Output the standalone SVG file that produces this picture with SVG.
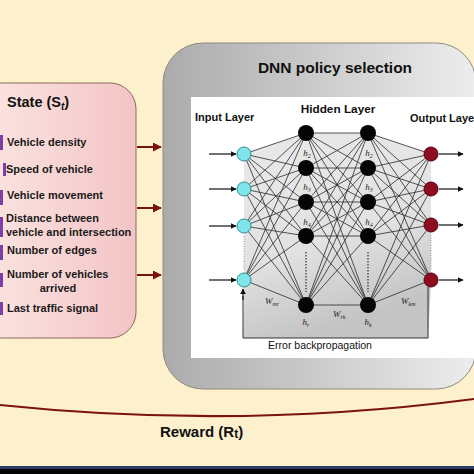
<svg xmlns="http://www.w3.org/2000/svg" width="474" height="474" viewBox="0 0 474 474">
<style>
.t{font-family:"Liberation Sans",Arial,sans-serif;fill:#111}
.b{font-weight:bold}
.item{font-family:"Liberation Sans",Arial,sans-serif;font-weight:bold;font-size:11px;fill:#1a1a1a}
.bar{fill:#7c3fa6}
.lab{font-family:"Liberation Serif","Times New Roman",serif;font-style:italic;font-size:9px;fill:#222}
.w{stroke:#2a2a2a;stroke-width:0.8;fill:none}
.inN{fill:#7ee6ea;stroke:#2f8d93;stroke-width:1}
.hN{fill:#050505}
.oN{fill:#8e0c1f;stroke:#5a0010;stroke-width:1}
.dots{stroke:#333;stroke-width:1.2;stroke-dasharray:1.5 1.5;fill:none}
.ext{stroke:#7b1212;stroke-width:2;fill:none}
.nnA{stroke:#111;stroke-width:1.2;fill:none}
</style>
<defs>
<linearGradient id="pinkG" x1="0" x2="1" y1="0" y2="0">
<stop offset="0" stop-color="#fbe8e4"/>
<stop offset="1" stop-color="#f4c4c6"/>
</linearGradient>
<linearGradient id="grayG" x1="0" x2="1" y1="0" y2="0">
<stop offset="0" stop-color="#ababab"/>
<stop offset="1" stop-color="#ededed"/>
</linearGradient>
<linearGradient id="shadeG" x1="0" x2="0.3" y1="0" y2="1">
<stop offset="0" stop-color="#e9e9e9"/>
<stop offset="0.6" stop-color="#e2e2e2"/>
<stop offset="1" stop-color="#c4c4c4"/>
</linearGradient>
<marker id="redArr" viewBox="0 0 10 10" refX="9" refY="5" markerWidth="4.5" markerHeight="4.5" orient="auto" markerUnits="strokeWidth">
<path d="M0 0L10 5L0 10z" fill="#7b1212"/>
</marker>
<marker id="blkArr" viewBox="0 0 10 10" refX="9" refY="5" markerWidth="5" markerHeight="5" orient="auto" markerUnits="strokeWidth">
<path d="M0 0L10 5L0 10z" fill="#111"/>
</marker>
</defs>

<rect x="0" y="0" width="474" height="474" fill="#fdf0cd"/>
<rect x="0" y="466" width="474" height="3" fill="#2c3a6a"/>
<rect x="0" y="469" width="474" height="5" fill="#050505"/>

<g id="state">
<rect x="-30" y="83" width="166" height="255" rx="26" fill="url(#pinkG)" stroke="#8a6a5c" stroke-width="1"/>
<text class="t b" x="7" y="107" font-size="14.5">State (S<tspan font-size="10" font-style="italic" dy="3">t</tspan><tspan dy="-3">)</tspan></text>
<rect class="bar" x="0" y="135" width="3" height="15"/>
<text class="item" x="7" y="146">Vehicle density</text>
<rect class="bar" x="3" y="163" width="3" height="13"/>
<text class="item" x="6" y="173">Speed of vehicle</text>
<rect class="bar" x="0" y="190" width="3" height="15"/>
<text class="item" x="7" y="199">Vehicle movement</text>
<rect class="bar" x="0" y="217" width="3" height="20"/>
<text class="item" x="6" y="222">Distance between</text>
<text class="item" x="6" y="236">vehicle and intersection</text>
<rect class="bar" x="0" y="245" width="3" height="15"/>
<text class="item" x="7" y="254">Number of edges</text>
<rect class="bar" x="0" y="273" width="3" height="14"/>
<text class="item" x="7" y="278">Number of vehicles</text>
<text class="item" x="58" y="292" text-anchor="middle">arrived</text>
<rect class="bar" x="0" y="302" width="3" height="13"/>
<text class="item" x="7" y="312">Last traffic signal</text>
</g>

<g id="dnn">
<rect x="163" y="43" width="313" height="346" rx="40" fill="url(#grayG)" stroke="#8c8a80" stroke-width="1"/>
<text class="t b" x="335" y="73" font-size="15.5" text-anchor="middle">DNN policy selection</text>
<rect x="191" y="97" width="290" height="261" fill="#ffffff"/>
<polygon points="244,154 306,133 368,133 431,154 431,282 428,338 243,338 244,282" fill="url(#shadeG)"/>
<text class="t b" x="195" y="121" font-size="11">Input Layer</text>
<text class="t b" x="338" y="113" font-size="11.8" text-anchor="middle">Hidden Layer</text>
<text class="t b" x="410" y="122" font-size="11">Output Layer</text>
<text class="t" x="320" y="349" font-size="10.5" text-anchor="middle">Error backpropagation</text>
</g>

<g id="connectors">
<path class="ext" d="M137 147H161" marker-end="url(#redArr)"/>
<path class="ext" d="M137 208H161" marker-end="url(#redArr)"/>
<path class="ext" d="M137 275H161" marker-end="url(#redArr)"/>
<path d="M0 405Q237 430 474 399" stroke="#7b1212" stroke-width="2.2" fill="none"/>
<path class="w" d="M244 154L306 133M244 154L306 168M244 154L306 202M244 154L306 236M244 154L306 305M244 189L306 133M244 189L306 168M244 189L306 202M244 189L306 236M244 189L306 305M244 226L306 133M244 226L306 168M244 226L306 202M244 226L306 236M244 226L306 305M244 280L306 133M244 280L306 168M244 280L306 202M244 280L306 236M244 280L306 305"/>
<path class="w" d="M306 133L368 133M306 133L368 168M306 133L368 202M306 133L368 236M306 133L368 305M306 168L368 133M306 168L368 168M306 168L368 202M306 168L368 236M306 168L368 305M306 202L368 133M306 202L368 168M306 202L368 202M306 202L368 236M306 202L368 305M306 236L368 133M306 236L368 168M306 236L368 202M306 236L368 236M306 236L368 305M306 305L368 133M306 305L368 168M306 305L368 202M306 305L368 236M306 305L368 305"/>
<path class="w" d="M368 133L431 154M368 133L431 189M368 133L431 225M368 133L431 280M368 168L431 154M368 168L431 189M368 168L431 225M368 168L431 280M368 202L431 154M368 202L431 189M368 202L431 225M368 202L431 280M368 236L431 154M368 236L431 189M368 236L431 225M368 236L431 280M368 305L431 154M368 305L431 189M368 305L431 225M368 305L431 280"/>
<path class="nnA" d="M209 154H236" marker-end="url(#blkArr)"/>
<path class="nnA" d="M209 189H236" marker-end="url(#blkArr)"/>
<path class="nnA" d="M209 226H236" marker-end="url(#blkArr)"/>
<path class="nnA" d="M209 280H236" marker-end="url(#blkArr)"/>
<path class="nnA" d="M439 154H463" marker-end="url(#blkArr)"/>
<path class="nnA" d="M439 189H463" marker-end="url(#blkArr)"/>
<path class="nnA" d="M439 225H463" marker-end="url(#blkArr)"/>
<path class="nnA" d="M439 280H463" marker-end="url(#blkArr)"/>
<path d="M428 287V338H243V296" stroke="#333" stroke-width="1" fill="none"/>
<path class="nnA" d="M243 300V289" stroke-width="1" marker-end="url(#blkArr)"/>
<path class="dots" d="M306 252V292M368 252V292"/>
<path d="M244 236V270M431 235V270" stroke="#888" stroke-width="0.8" stroke-dasharray="1 1.5" fill="none"/>
</g>

<g id="input-nodes">
<circle class="inN" cx="244" cy="154" r="7"/>
<circle class="inN" cx="244" cy="189" r="7"/>
<circle class="inN" cx="244" cy="226" r="7"/>
<circle class="inN" cx="244" cy="280" r="7"/>
</g>
<g id="hidden-layer-1">
<circle class="hN" cx="306" cy="133" r="8"/>
<circle class="hN" cx="306" cy="168" r="8"/>
<circle class="hN" cx="306" cy="202" r="8"/>
<circle class="hN" cx="306" cy="236" r="8"/>
<circle class="hN" cx="306" cy="305" r="8"/>
<text class="lab" x="307" y="156" text-anchor="middle">h<tspan font-size="6" dy="2">2</tspan></text>
<text class="lab" x="307" y="190" text-anchor="middle">h<tspan font-size="6" dy="2">3</tspan></text>
<text class="lab" x="307" y="225" text-anchor="middle">h<tspan font-size="6" dy="2">4</tspan></text>
<text class="lab" x="306" y="325" text-anchor="middle">h<tspan font-size="6" dy="2">r</tspan></text>
</g>
<g id="hidden-layer-2">
<circle class="hN" cx="368" cy="133" r="8"/>
<circle class="hN" cx="368" cy="168" r="8"/>
<circle class="hN" cx="368" cy="202" r="8"/>
<circle class="hN" cx="368" cy="236" r="8"/>
<circle class="hN" cx="368" cy="305" r="8"/>
<text class="lab" x="369" y="156" text-anchor="middle">h<tspan font-size="6" dy="2">2</tspan></text>
<text class="lab" x="369" y="190" text-anchor="middle">h<tspan font-size="6" dy="2">3</tspan></text>
<text class="lab" x="369" y="225" text-anchor="middle">h<tspan font-size="6" dy="2">4</tspan></text>
<text class="lab" x="368" y="325" text-anchor="middle">h<tspan font-size="6" dy="2">k</tspan></text>
</g>
<g id="output-nodes">
<circle class="oN" cx="431" cy="154" r="7"/>
<circle class="oN" cx="431" cy="189" r="7"/>
<circle class="oN" cx="431" cy="225" r="7"/>
<circle class="oN" cx="431" cy="280" r="7"/>
</g>
<g id="weights">
<text class="lab" x="265" y="304">W<tspan font-size="6" dy="2">mr</tspan></text>
<text class="lab" x="333" y="317">W<tspan font-size="6" dy="2">rk</tspan></text>
<text class="lab" x="401" y="304">W<tspan font-size="6" dy="2">km</tspan></text>
</g>

<g id="reward">
<text class="t b" x="160" y="437" font-size="15">Reward (R<tspan font-size="12" dy="1">t</tspan><tspan dy="-1">)</tspan></text>
</g>
</svg>
